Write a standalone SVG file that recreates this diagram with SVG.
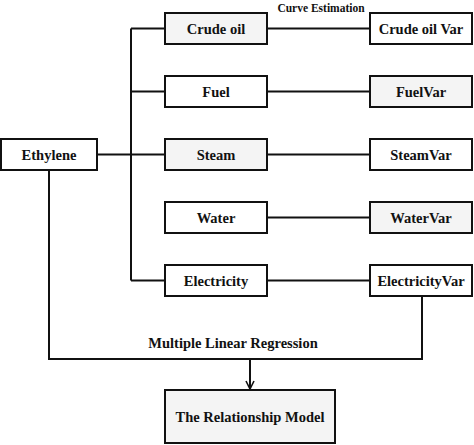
<svg xmlns="http://www.w3.org/2000/svg" width="474" height="445" viewBox="0 0 474 445">
<style>
.box{stroke:#111;stroke-width:2;}
.g{fill:#f4f4f4;}
.w{fill:#ffffff;}
.t{font-family:"Liberation Serif","Times New Roman",serif;font-weight:bold;font-size:14.5px;fill:#111;text-anchor:middle;}
.c{fill:none;stroke:#111;stroke-width:2;}
</style>
<defs>
<marker id="arr" viewBox="0 0 10 10" refX="9" refY="5" markerWidth="10" markerHeight="10" markerUnits="userSpaceOnUse" orient="auto">
<path d="M1,1 L9,5 L1,9" fill="none" stroke="#111" stroke-width="1.6"/>
</marker>
</defs>
<rect width="474" height="445" fill="#fff"/>
<g id="connectors">
<path class="c" d="M131,28.5 V280.5"/>
<path class="c" d="M131,28.5 H165 M131,91.5 H165 M97,154.5 H165 M131,280.5 H165"/>
<path class="c" d="M267,28.5 H370 M267,91.5 H370 M267,154.5 H370 M267,217.5 H370 M267,280.5 H370"/>
<path class="c" d="M49,170 V359 H422 V296"/>
<path class="c" d="M250,359 V389" marker-end="url(#arr)"/>
<text class="t" x="321" y="12" style="font-size:11.5px">Curve Estimation</text>
<text class="t" x="233" y="348">Multiple Linear Regression</text>
</g>
<g id="ethylene"><rect class="box w" x="1" y="139" width="96" height="31"/><text class="t" x="49" y="159.5">Ethylene</text></g>
<g id="crude-oil"><rect class="box g" x="165" y="13" width="102" height="31"/><text class="t" x="216" y="33.5">Crude oil</text></g>
<g id="crude-oil-var"><rect class="box w" x="370" y="13" width="102" height="31"/><text class="t" x="421" y="33.5">Crude oil Var</text></g>
<g id="fuel"><rect class="box w" x="165" y="76" width="102" height="31"/><text class="t" x="216" y="96.5">Fuel</text></g>
<g id="fuel-var"><rect class="box g" x="370" y="76" width="102" height="31"/><text class="t" x="421" y="96.5">FuelVar</text></g>
<g id="steam"><rect class="box g" x="165" y="139" width="102" height="31"/><text class="t" x="216" y="159.5">Steam</text></g>
<g id="steam-var"><rect class="box w" x="370" y="139" width="102" height="31"/><text class="t" x="421" y="159.5">SteamVar</text></g>
<g id="water"><rect class="box w" x="165" y="202" width="102" height="31"/><text class="t" x="216" y="222.5">Water</text></g>
<g id="water-var"><rect class="box g" x="370" y="202" width="102" height="31"/><text class="t" x="421" y="222.5">WaterVar</text></g>
<g id="electricity"><rect class="box w" x="165" y="265" width="102" height="31"/><text class="t" x="216" y="285.5">Electricity</text></g>
<g id="electricity-var"><rect class="box w" x="370" y="265" width="102" height="31"/><text class="t" x="421" y="285.5">ElectricityVar</text></g>
<g id="relationship-model"><rect class="box g" x="165" y="390" width="170" height="53"/><text class="t" x="250" y="422">The Relationship Model</text></g>
</svg>
